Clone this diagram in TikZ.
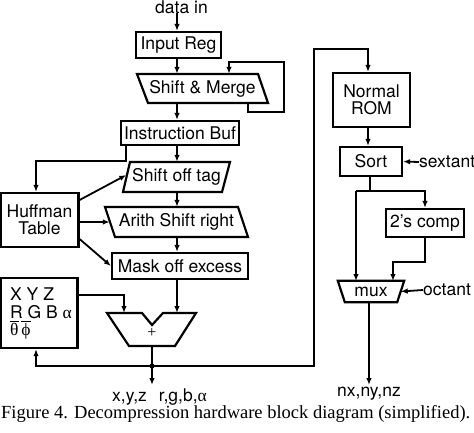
\documentclass[tikz,border=0pt]{standalone}
\usepackage{fontspec}
\setmainfont{TeX Gyre Heros}
\newfontfamily\capfont{Liberation Serif}
\usetikzlibrary{arrows.meta,calc}
\begin{document}
\begin{tikzpicture}[x=1pt,y=-1pt,line join=miter,
  every node/.style={font=\fontsize{17.5}{17.5}\selectfont, inner sep=0pt},
  box/.style={draw, line width=2.2pt},
  shp/.style={draw, line width=2.2pt},
  wire/.style={line width=1.8pt},
  arr/.style={wire, -{Latex[length=7pt,width=5.5pt]}}]
\useasboundingbox (0,0) rectangle (474,432);
% column coordinates
\coordinate (cM) at (177,0);
\coordinate (cLp) at (248,0);
\coordinate (cLq) at (229,0);
\coordinate (hc) at (126,161);
\coordinate (hb) at (36,161);
\coordinate (c36) at (36,0);
\coordinate (cN) at (368,0);
\coordinate (cS) at (370,0);
\coordinate (cT) at (425,0);
% left column
\node[anchor=base] (din) at (181.5,13) {data in};
\node[box, minimum width=85pt, minimum height=26pt] (ir) at (178.5,45) {Input Reg};
\node[minimum width=121pt, minimum height=29pt] (sm) at (202.5,88.5) {Shift \& Merge};
\draw[shp] (137,74) -- (258,74) -- (268,103) -- (148,103) -- cycle;
\node[box, minimum width=118pt, minimum height=24pt] (ib) at (180,133) {Instruction Buf};
\node[minimum width=100pt, minimum height=30pt] (sot) at (176.5,177) {Shift off tag};
\draw[shp] (130,162) -- (230,162) -- (222,192) -- (123,192) -- cycle;
\node[minimum width=133pt, minimum height=30pt] (ash) at (176.5,222) {Arith Shift right};
\draw[shp] (105,207) -- (238,207) -- (248,237) -- (115,237) -- cycle;
\node[box, minimum width=136pt, minimum height=26pt] (mo) at (180,266) {Mask off excess};
\node[box, minimum width=78pt, minimum height=54pt, align=center] (hf) at (39.5,220) {Huffman\\[-0.5pt]Table};
\node[box, minimum width=77pt, minimum height=70pt] (xyz) at (39,313) {};
\node[anchor=base west, align=left] (xyzt) at (10,335) {X Y Z\\[1pt]R G B {\capfont α}\\[-1pt]$\overline{\mbox{\capfont θ}}\,\overline{\mbox{\capfont ϕ}}$};
% right column nodes
\node[box, minimum width=77pt, minimum height=54pt, align=center] (rom) at (371.5,100) {Normal\\[-0.5pt]ROM};
\node[box, minimum width=62pt, minimum height=29pt] (sort) at (371,161.5) {Sort};
\node[anchor=west] (sext) at (419,162) {sextant};
\node[box, minimum width=78pt, minimum height=28pt] (tc) at (425,223) {2's comp};
\node[minimum width=66pt, minimum height=21pt] (mux) at (371,291.5) {mux};
\draw[shp] (mux.north west) -- (mux.north east) -- ([xshift=-7pt]mux.south east) -- ([xshift=7pt]mux.south west) -- cycle;
\node[anchor=west] (oct) at (423,290) {octant};
\node (nx) at (369,394) {nx,ny,nz};
% adder
\draw[shp] (107,313) -- (142,313) -- (152,325) -- (163,313) -- (196,313) -- (175,346) -- (129,346) -- cycle;
\node[font=\capfont\fontsize{16}{16}\selectfont] (add) at (152,333) {+};
\coordinate (a1) at (124,313);
\coordinate (a2) at (177,313);
\coordinate (aout) at (152,346);
\coordinate (j) at (152,366);
\coordinate (o1) at (152,385);
\coordinate (tr) at (314,49);
\coordinate (tl) at (284,62);
% connectors left
\draw[arr] (din.south -| cM) -- (ir.north -| cM);
\draw[arr] (ir.south -| cM) -- (sm.north -| cM);
\draw[arr] (sm.south -| cLp) -- ++(0,9) -| (tl) -| (sm.north -| cLq);
\draw[arr] (sm.south -| cM) -- (ib.north -| cM);
\draw[arr] (ib.south -| cM) -- (sot.north -| cM);
\draw[arr] (sot.south -| cM) -- (ash.north -| cM);
\draw[arr] (ash.south -| cM) -- (mo.north -| cM);
\draw[arr] (ib.south -| hc) -- (hc) -- (hb) -- (hf.north -| c36);
\draw[arr] ([yshift=20pt]hf.east) -- ([yshift=2pt]sot.west);
\draw[arr] (hf.east |- ash.west) -- (ash.west);
\draw[arr] ([yshift=-19pt]hf.east) -- (mo.west);
\draw[arr] (mo.south -| cM) -- (a2);
\draw[arr] ([yshift=18pt]xyz.east) -| (a1);
\draw[arr] (aout) -- (o1);
\fill (j) circle (2.6pt);
\draw[arr] (j) -| (xyz.south -| c36);
\draw[arr] (j) -| (tr) -| (rom.north -| cN);
\node[anchor=base west] (lbl) at (112,401) {x,y,z\hspace{12pt}r,g,b,{\capfont α}};
% right column connectors
\coordinate (br) at (370,191);
\coordinate (bl) at (356,191);
\coordinate (mj) at (393,262);
\coordinate (m1) at (356,281);
\coordinate (m2) at (393,281);
\coordinate (nxe) at (369,385);
\draw[arr] (rom.south -| cN) -- (sort.north -| cN);
\draw[arr] (sext.west) -- (sort.east);
\draw[wire] (sort.south -| cS) -- (br);
\draw[arr] (bl) -| (tc.north -| cT);
\draw[arr] (bl) -- (m1);
\draw[arr] (tc.south -| cT) |- (mj) -- (m2);
\draw[arr] (oct.west) -- ([xshift=-3.5pt]mux.east);
\draw[arr] (mux.south -| nxe) -- (nxe);
% caption
\node[anchor=base west, font=\capfont\fontsize{18.5}{18.5}\selectfont] (cap) at (1,418) {Figure 4. Decompression hardware block diagram (simplified).};
\end{tikzpicture}
\end{document}
